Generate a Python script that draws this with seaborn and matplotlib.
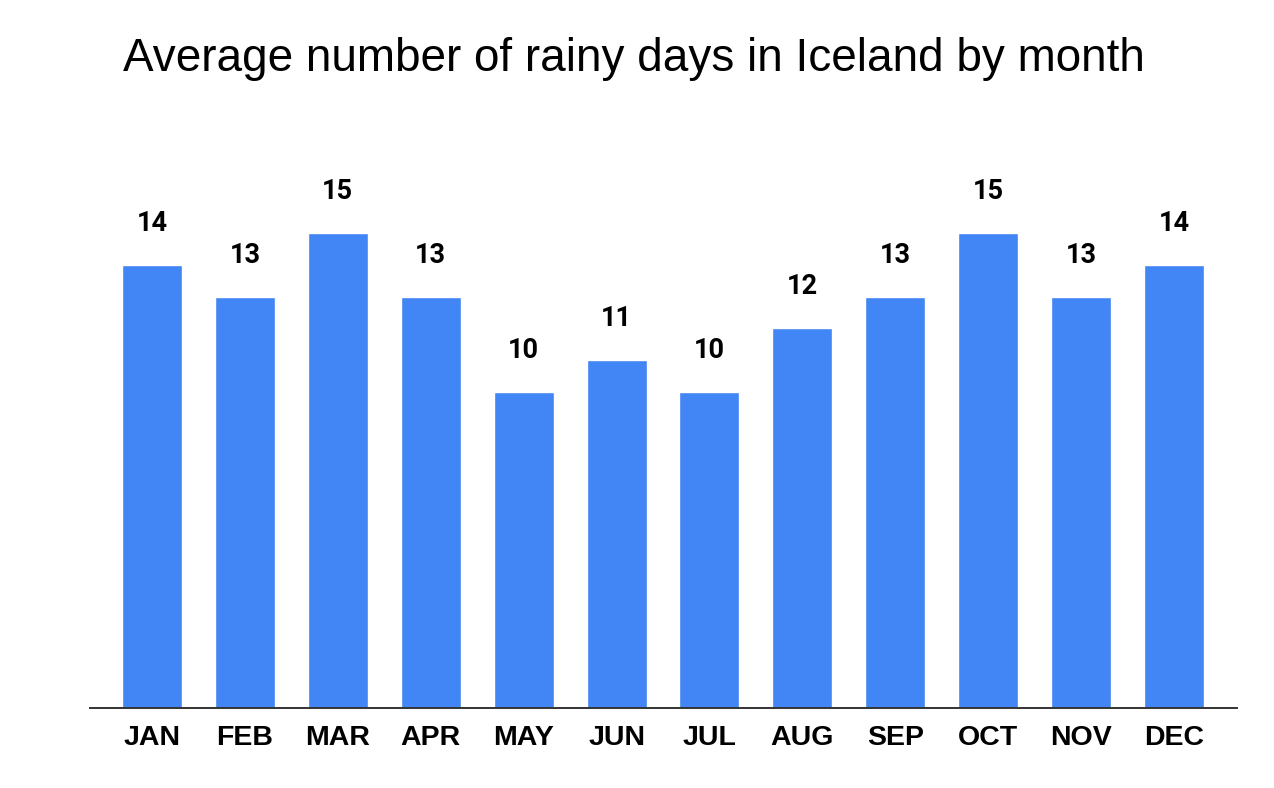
import matplotlib
matplotlib.use("Agg")
import matplotlib.pyplot as plt
import seaborn as sns
import pandas as pd

months = ["JAN", "FEB", "MAR", "APR", "MAY", "JUN", "JUL", "AUG", "SEP", "OCT", "NOV", "DEC"]
rainy_days = [14, 13, 15, 13, 10, 11, 10, 12, 13, 15, 13, 14]
title = "Average number of rainy days in Iceland by month"

df = pd.DataFrame({"month": months, "days": rainy_days})

sns.set_theme(style="white")
plt.rcParams["font.family"] = ["Liberation Sans", "DejaVu Sans"]

W, H = 1274, 788
fig = plt.figure(figsize=(W / 100, H / 100), dpi=100)
ax_left, ax_right = 90 / W, 1237 / W
ax_bottom_px, ax_top_px = 708, 110
ax = fig.add_axes([ax_left, 1 - ax_bottom_px / H, ax_right - ax_left, (ax_bottom_px - ax_top_px) / H])

sns.barplot(data=df, x="month", y="days", color="#4285F4", saturation=1, width=0.646, ax=ax)

px_per_unit = 31.65
ax.set_ylim(0, (ax_bottom_px - ax_top_px) / px_per_unit)
ax.set_xlim(-0.667, 11.678)

for i, v in enumerate(rainy_days):
    ax.annotate(str(v), (i, v), xytext=(0, 28), textcoords="offset pixels",
                ha="center", va="bottom", fontsize=19.5, fontweight="bold",
                color="#000000", family=["Roboto", "DejaVu Sans"])

ax.set_xlabel("")
ax.set_ylabel("")
ax.set_yticks([])
for s in ["top", "right", "left"]:
    ax.spines[s].set_visible(False)
ax.spines["bottom"].set_color("#333333")
ax.spines["bottom"].set_linewidth(1.4)
ax.tick_params(axis="x", length=0, pad=12.5)
for lab in ax.get_xticklabels():
    lab.set_fontsize(20.5)
    lab.set_fontweight("bold")
    lab.set_color("#000000")

fig.text(634 / W, 1 - 59 / H, title, ha="center", va="center", fontsize=33, color="#000000")

fig.savefig("out.png", dpi=100, facecolor="white")
